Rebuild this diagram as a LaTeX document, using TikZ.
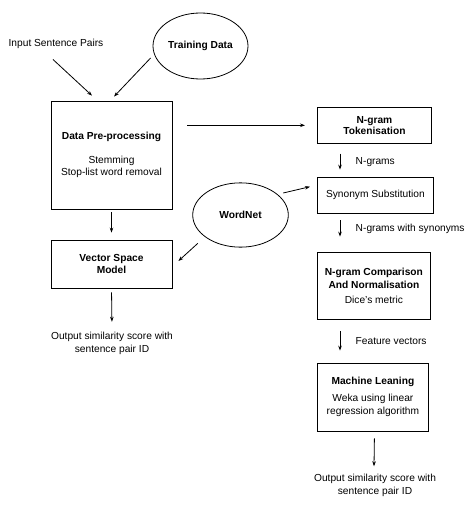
\documentclass[tikz,border=0pt]{standalone}
\usepackage{fontspec}
\setmainfont{Liberation Sans}
\usetikzlibrary{shapes.geometric, arrows.meta}

\begin{document}
\begin{tikzpicture}[x=1pt, y=-1pt, >={Stealth[length=5pt, width=3.6pt]},
  font=\fontsize{10.2}{12.5}\selectfont, line width=0.8pt,
  procbox/.style={draw, align=center, inner sep=0pt},
  dataell/.style={draw, ellipse, inner sep=0pt, font=\fontsize{10.2}{12.5}\selectfont\bfseries}]
  \useasboundingbox (0,0) rectangle (474,505);
  % inputs
  \node (input) at (56,44) {Input Sentence Pairs};
  \node[dataell, minimum width=95pt, minimum height=66pt] (train) at (200.5,46) {Training Data};
  \node[dataell, minimum width=95.6pt, minimum height=64.3pt] (wn) at (240.5,215) {WordNet};
  % left column
  \node[procbox, minimum width=121pt, minimum height=108pt] (prep) at (111.5,155)
    {\textbf{Data Pre-processing}\\[11.5pt]Stemming\\Stop-list word removal};
  \node[procbox, minimum width=121pt, minimum height=48pt, font=\fontsize{10.2}{12}\selectfont\bfseries] (vsm) at (111.5,264)
    {Vector Space\\Model};
  \node[align=center] (out1) at (112,343.5) {Output similarity score with\\sentence pair ID};
  % right column
  \node[procbox, anchor=west, minimum width=114pt, minimum height=36pt, font=\fontsize{10.2}{11.5}\selectfont\bfseries] (tok) at (317,125.3)
    {N-gram\\Tokenisation};
  \node[procbox, anchor=west, minimum width=116pt, minimum height=36pt] (syn) at (317,195) {Synonym Substitution};
  \node[procbox, anchor=west, minimum width=113pt, minimum height=67pt] (cmp) at (317,285.5)
    {\textbf{N-gram Comparison}\\[0.5pt]\textbf{And Normalisation}\\[2.5pt]Dice's metric};
  \node[procbox, anchor=west, minimum width=111pt, minimum height=68pt] (ml) at (317,397)
    {\textbf{Machine Leaning}\\[4.5pt]Weka using linear\\regression algorithm};
  \node[align=center] (out2) at (375,485.5) {Output similarity score with\\sentence pair ID};
  % connectors
  \draw[->] ([shift={(-3,7)}]input.south) -- ([shift={(-19.5,-5)}]prep.north);
  \draw[->] ([shift={(-2,12)}]train.west) -- ([shift={(2.5,-4)}]prep.north);
  \draw[->, shorten <=15pt, shorten >=12pt] (prep.east |- tok.west) -- (tok.west);
  \draw[->, shorten <=3pt, shorten >=7pt] (prep.south) -- (vsm.north);
  \draw[->, shorten <=4pt, shorten >=7pt] (vsm.south) -- (out1.north);
  \draw[->] ([shift={(8.7,1)}]wn.north east) -- ([shift={(-7,-8.3)}]syn.west);
  \draw[->] ([shift={(-8.6,5.3)}]wn.south west) -- ([shift={(6,-3)}]vsm.east);
  \draw[->] ([shift={(23,10)}]tok.south west) -- ([shift={(23,-7)}]syn.north west)
    node[midway, right=12pt] {N-grams};
  \draw[->] ([shift={(23,7)}]syn.south west) -- ([shift={(23,-15)}]cmp.north west)
    node[midway, right=12pt] {N-grams with synonyms};
  \draw[->] ([shift={(23,12)}]cmp.south west) -- ([shift={(23,-12)}]ml.north west)
    node[midway, right=12pt] {Feature vectors};
  \draw[->] ([shift={(1.5,7)}]ml.south) -- ([shift={(-1,-4.5)}]out2.north);
\end{tikzpicture}
\end{document}
